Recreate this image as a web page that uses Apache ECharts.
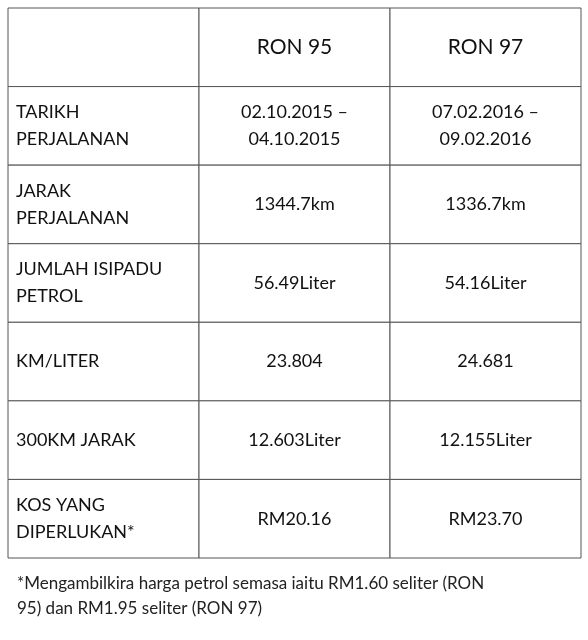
<!DOCTYPE html>
<html><head><meta charset="utf-8">
<script src="https://cdn.jsdelivr.net/npm/echarts@6/dist/echarts.min.js"></script>
<style>html,body{margin:0;background:#fff}#c{width:588px;height:640px}</style>
</head><body><div id="c"></div>
<script>
const columns = ['', 'RON 95', 'RON 97'];
const rowLabels = ['TARIKH\nPERJALANAN', 'JARAK\nPERJALANAN', 'JUMLAH ISIPADU\nPETROL', 'KM/LITER', '300KM JARAK', 'KOS YANG\nDIPERLUKAN*'];
const ron95 = ['02.10.2015 –\n04.10.2015', '1344.7km', '56.49Liter', '23.804', '12.603Liter', 'RM20.16'];
const ron97 = ['07.02.2016 –\n09.02.2016', '1336.7km', '54.16Liter', '24.681', '12.155Liter', 'RM23.70'];
const footnote = '*Mengambilkira harga petrol semasa iaitu RM1.60 seliter (RON\n95) dan RM1.95 seliter (RON 97)';

const rows = ['header'].concat(rowLabels.map((_, i) => 'r' + i));
const cells = [];
columns.forEach((c, ci) => cells.push([ci, 0, c]));
rowLabels.forEach((l, i) => {
  cells.push([0, i + 1, l]);
  cells.push([1, i + 1, ron95[i]]);
  cells.push([2, i + 1, ron97[i]]);
});

const chart = echarts.init(document.getElementById('c'));
chart.setOption({
  animation: false,
  title: { text: footnote, left: 12, top: 566, textStyle: { fontFamily: 'Lato', fontSize: 17, fontWeight: 'normal', color: '#222', lineHeight: 25 } },
  grid: { left: 8, right: 7, top: 8, bottom: 82 },
  xAxis: { type: 'category', data: columns.map((_, i) => i), show: false },
  yAxis: { type: 'category', data: rows, inverse: true, show: false },
  series: [{
    type: 'custom',
    data: cells,
    renderItem: function (params, api) {
      const ci = api.value(0), ri = api.value(1);
      const p = api.coord([ci, ri]);
      const s = api.size([1, 1]);
      const txt = cells[params.dataIndex][2];
      const left = ci === 0 && ri > 0;
      return {
        type: 'group',
        children: [{
          type: 'rect',
          shape: { x: p[0] - s[0] / 2, y: p[1] - s[1] / 2, width: s[0], height: s[1] },
          style: { fill: '#fff', stroke: '#555', lineWidth: 1 }
        }, {
          type: 'text',
          style: {
            text: txt, x: left ? p[0] - s[0] / 2 + 8 : p[0], y: p[1],
            align: left ? 'left' : 'center', verticalAlign: 'middle',
            font: (ri === 0 ? '21px' : '18px') + ' Lato', fill: '#111', lineHeight: 27
          }
        }]
      };
    }
  }]
});
</script></body></html>
